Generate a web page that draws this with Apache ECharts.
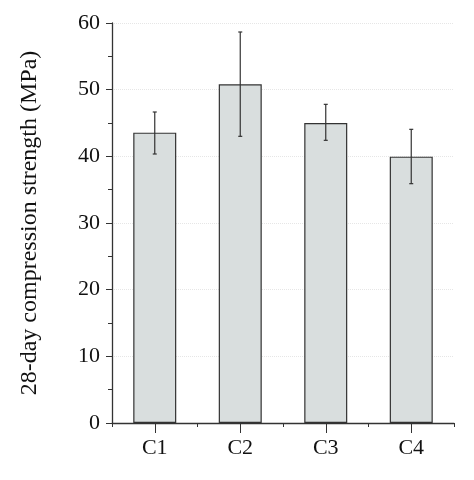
<!DOCTYPE html>
<html>
<head>
<meta charset="utf-8">
<script src="https://cdn.jsdelivr.net/npm/echarts@6/dist/echarts.min.js"></script>
<style>html,body{margin:0;padding:0;background:#fff}#chart{width:474px;height:480px}</style>
</head>
<body>
<div id="chart"></div>
<script>
// 数据
let categories = ['C1', 'C2', 'C3', 'C4'];
let strength = [43.55, 50.8, 45.0, 39.95];
let errLow = [40.35, 43.0, 42.4, 35.9];
let errHigh = [46.65, 58.65, 47.8, 44.05];

let font = '"Liberation Serif", "Times New Roman", serif';
let chart = echarts.init(document.getElementById('chart'));

let errData = categories.map((c, i) => [i, errLow[i], errHigh[i]]);

chart.setOption({
    animation: false,
    grid: {left: 112, right: 20, top: 23, bottom: 57},
    xAxis: [{
        type: 'category',
        data: categories,
        axisLine: {lineStyle: {color: '#333', width: 1.3}},
        axisTick: {show: true, length: 4, lineStyle: {color: '#333'}},
        axisLabel: {color: '#111', fontFamily: font, fontSize: 22, margin: 14}
    }, {
        type: 'category',
        data: categories,
        position: 'bottom',
        axisLine: {show: false},
        axisTick: {show: true, alignWithLabel: true, length: 10, lineStyle: {color: '#333'}},
        axisLabel: {show: false}
    }],
    yAxis: {
        type: 'value',
        min: 0, max: 60, interval: 10,
        name: '28-day compression strength (MPa)',
        nameLocation: 'middle',
        nameGap: 70,
        nameTextStyle: {color: '#111', fontFamily: font, fontSize: 24},
        axisLine: {show: true, lineStyle: {color: '#333', width: 1.3}},
        axisTick: {show: true, length: 6, lineStyle: {color: '#333'}},
        minorTick: {show: true, splitNumber: 2, length: 4, lineStyle: {color: '#333'}},
        axisLabel: {color: '#111', fontFamily: font, fontSize: 22, margin: 12},
        splitLine: {show: true, lineStyle: {color: '#e6e6e6', type: 'dotted'}}
    },
    series: [{
        type: 'bar',
        data: strength,
        barWidth: 43,
        itemStyle: {color: '#d9dede', borderColor: '#333', borderWidth: 1.2}
    }, {
        type: 'custom',
        data: errData,
        z: 10,
        renderItem: (params, api) => {
            let lo = api.coord([api.value(0), api.value(1)]);
            let hi = api.coord([api.value(0), api.value(2)]);
            let st = {stroke: '#333', lineWidth: 1.2};
            return {
                type: 'group',
                children: [
                    {type: 'line', shape: {x1: lo[0], y1: lo[1], x2: hi[0], y2: hi[1]}, style: st},
                    {type: 'line', shape: {x1: lo[0] - 2, y1: lo[1], x2: lo[0] + 2, y2: lo[1]}, style: st},
                    {type: 'line', shape: {x1: hi[0] - 2, y1: hi[1], x2: hi[0] + 2, y2: hi[1]}, style: st}
                ]
            };
        }
    }]
});
</script>
</body>
</html>
